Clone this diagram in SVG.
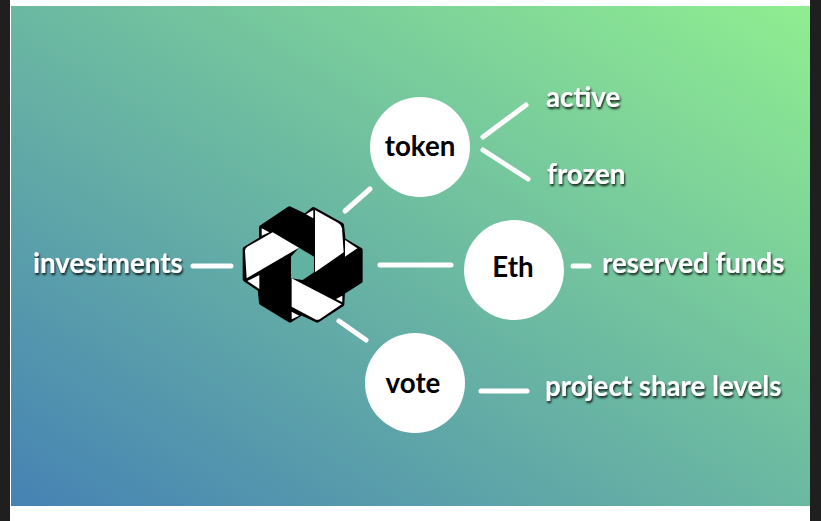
<svg xmlns="http://www.w3.org/2000/svg" width="821" height="521" viewBox="0 0 821 521">
<defs>
<linearGradient id="bg" gradientUnits="userSpaceOnUse" x1="185.6" y1="615.3" x2="635.4" y2="-103.3">
<stop offset="0" stop-color="#4682b4"/><stop offset="1" stop-color="#90ee90"/>
</linearGradient>
<filter id="shadow" x="-10%" y="-30%" width="120%" height="170%">
<feDropShadow dx="1" dy="2" stdDeviation="1.2" flood-color="#000" flood-opacity="0.85"/>
</filter>
</defs>
<style>
text{font-family:"Lato","Open Sans",sans-serif;font-weight:700;font-size:27.7px}
.lbl{fill:#fff;filter:url(#shadow)}
.nt{fill:#000;text-anchor:middle}
.c{fill:#fff}
.ln{stroke:#fff;stroke-width:5;stroke-linecap:round;fill:none}
.k{fill:#000;stroke:#000;stroke-width:14;stroke-linejoin:round;fill-rule:evenodd}
.w{fill:#fff}
</style>
<rect width="821" height="521" fill="#fff"/>
<rect x="0" y="0" width="10" height="521" fill="#1f1f1f"/>
<rect x="810" y="0" width="11" height="521" fill="#1f1f1f"/>
<rect x="11" y="6" width="799" height="500" fill="url(#bg)"/>
<g id="connectors">
<line class="ln" x1="345" y1="211" x2="370" y2="189"/>
<line class="ln" x1="193" y1="266" x2="231" y2="266"/>
<line class="ln" x1="380" y1="265" x2="451" y2="265"/>
<line class="ln" x1="339" y1="321" x2="366" y2="340"/>
<line class="ln" x1="483" y1="137" x2="526" y2="105"/>
<line class="ln" x1="483" y1="150" x2="528" y2="179"/>
<line class="ln" x1="573" y1="266" x2="589" y2="266"/>
<line class="ln" x1="481" y1="391" x2="527" y2="391"/>
</g>
<g id="logo" transform="translate(230 195) scale(0.3333)">
<path class="k" d="M178 41L226 63L250 43L335 90L340 135L391 165L391 258L338 292L336 328L262 376L214 354L180 376L94 323L90 283L45 253L45 162L94 132L94 97Z"/>
<path fill="#62b2a2" d="M207 158L252 185L252 232L218 255L183 250L183 185Z"/>
<path class="w" d="M255 45L325 84Q335 90 336 100L341 172L255 232Z"/>
<path class="w" d="M128 112L207 158L50 250L45 170Q44 160 52 155Z"/>
<path class="w" d="M185 250L335 328L270 372Q262 377 254 372L185 335Z"/>
<path class="w" d="M228 58L250 45L250 70Z"/>
<path class="w" d="M345 135L382 160L345 185Z"/>
<path class="w" d="M52 258L88 240L88 282Z"/>
<path class="w" d="M95 100L118 112L95 122Z"/>
<path class="w" d="M318 312L337 302L337 322Z"/>
<path class="w" d="M185 350L208 362L185 373Z"/>
</g>
<g id="node-token"><circle class="c" cx="420" cy="147" r="50"/><text class="nt" x="420" y="156">token</text></g>
<g id="node-eth"><circle class="c" cx="514" cy="270" r="50"/><text class="nt" x="513" y="277">Eth</text></g>
<g id="node-vote"><circle class="c" cx="415" cy="383" r="50"/><text class="nt" x="413" y="393">vote</text></g>
<g id="label-investments"><text class="lbl" x="33" y="273">investments</text></g>
<g id="label-active"><text class="lbl" x="546" y="107">active</text></g>
<g id="label-frozen"><text class="lbl" x="547" y="184">frozen</text></g>
<g id="label-reserved"><text class="lbl" x="602" y="273">reserved funds</text></g>
<g id="label-project"><text class="lbl" x="545" y="396">project share levels</text></g>
</svg>
